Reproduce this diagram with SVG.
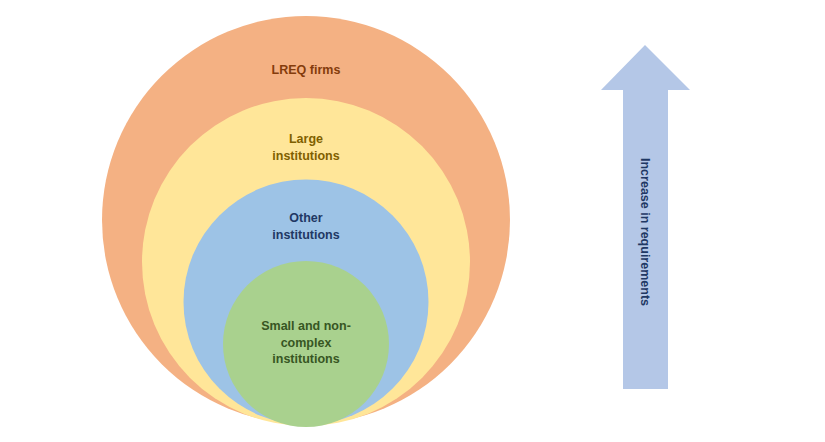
<svg xmlns="http://www.w3.org/2000/svg" width="825" height="442" viewBox="0 0 825 442">
<style>
text{font-family:"Liberation Sans",Arial,sans-serif;font-weight:bold;font-size:12.5px;text-anchor:middle}
</style>
<rect width="825" height="442" fill="#fff"/>
<g id="lreq"><circle cx="306" cy="220" r="204" fill="#F4B183"/><text x="306" y="74" fill="#843C0C">LREQ firms</text></g>
<g id="large"><circle cx="306" cy="262" r="164" fill="#FFE699"/><text x="306" y="143" fill="#7F6000">Large</text><text x="306" y="160" fill="#7F6000">institutions</text></g>
<g id="other"><circle cx="306" cy="302" r="122.5" fill="#9DC3E6"/><text x="306" y="222" fill="#1F3864">Other</text><text x="306" y="239" fill="#1F3864">institutions</text></g>
<g id="small"><circle cx="306" cy="344" r="83" fill="#A9D18E"/><text x="306" y="330" fill="#375623">Small and non-</text><text x="306" y="347" fill="#375623">complex</text><text x="306" y="363" fill="#375623">institutions</text></g>
<g id="connectors"><g id="arrow"><polygon points="645,45 690,90 668,90 668,389 623,389 623,90 601,90" fill="#B4C7E7"/><text transform="translate(641,232) rotate(90)" fill="#1F3864">Increase in requirements</text></g></g>
</svg>
